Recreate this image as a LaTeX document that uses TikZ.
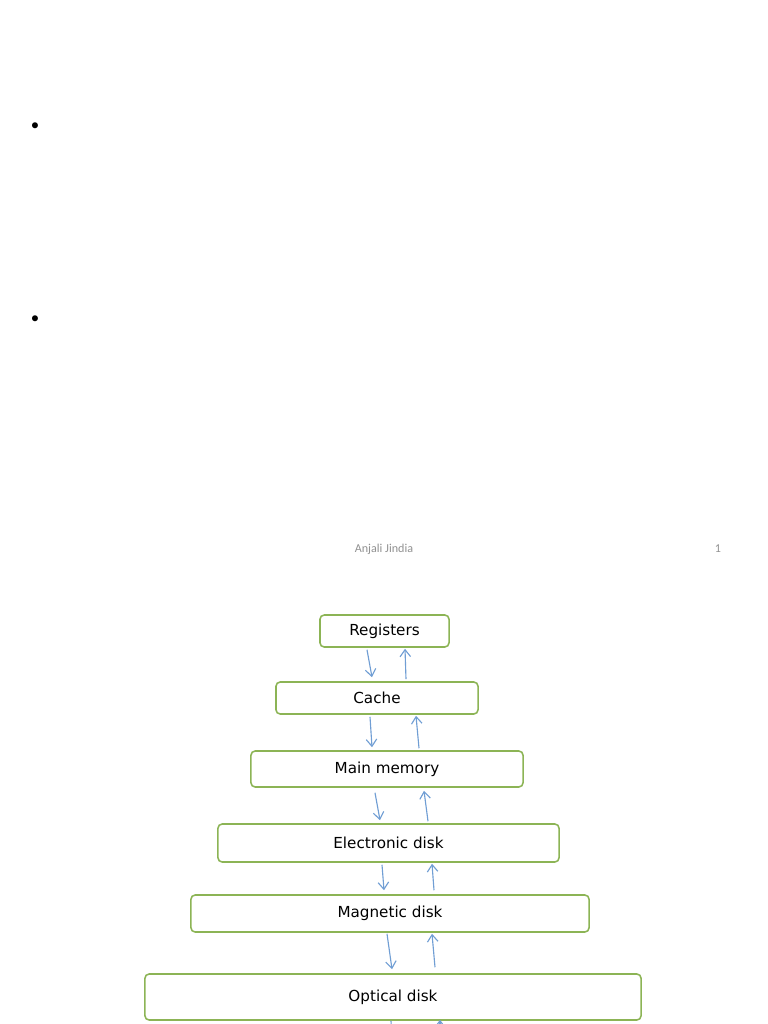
\documentclass[tikz,border=0pt]{standalone}
\usepackage{fontspec}
\setmainfont{Carlito}
\newfontfamily\boxfont{DejaVu Sans}
\usepackage{xcolor}
\usepackage{tikz}
\usetikzlibrary{arrows.meta, positioning, calc}

\definecolor{boxgreen}{RGB}{140,180,85}
\definecolor{arrowblue}{RGB}{112,158,212}
\definecolor{footgray}{RGB}{145,145,145}

\begin{document}
\begin{tikzpicture}[
    x=0.025cm, y=-0.025cm,
    level/.style={rectangle, draw=boxgreen, line width=1.1pt, rounded corners=3pt, fill=white, inner sep=0pt, font=\boxfont\fontsize{10.8}{12}\selectfont},
    flow/.style={-{Straight Barb[length=5pt, width=7.5pt]}, draw=arrowblue, line width=0.8pt},
    footer/.style={font=\fontsize{8.6}{10}\selectfont, text=footgray, inner sep=0pt},
    bullet/.style={font=\fontsize{12}{12}\selectfont, inner sep=0pt}
]
\clip (0,0) rectangle (768,1024);
\fill[white] (0,0) rectangle (768,1024);

% Slide part
\node[bullet] (bulletone) at (35,127) {\textbullet};
\node[bullet] (bullettwo) at (35,320) {\textbullet};
\node[footer] (author) at (384,549) {Anjali Jindia};
\node[footer] (pagenum) at (718,549) {1};

% Storage hierarchy
\node[level, minimum width=3.225cm, minimum height=0.8cm] (registers) at (384.5,631) {Registers};
\node[level, minimum width=5.05cm, minimum height=0.8cm] (cache) at (377,698) {Cache};
\node[level, minimum width=6.8cm, minimum height=0.9cm] (mainmem) at (387,769) {Main memory};
\node[level, minimum width=8.525cm, minimum height=0.95cm] (electronic) at (388.5,843) {Electronic disk};
\node[level, minimum width=9.95cm, minimum height=0.925cm] (magnetic) at (390,913.5) {Magnetic disk};
\node[level, minimum width=12.4cm, minimum height=1.15cm] (optical) at (393,997) {Optical disk};
\coordinate (below) at (393,1060);

% Arrows between levels (down, then up)
\draw[flow] ($(registers.south)+(-17.5,2)$) -- ($(cache.north)+(-5,-4)$);
\draw[flow] ($(cache.north)+(29,-2)$) -- ($(registers.south)+(20.5,1)$);

\draw[flow] ($(cache.south)+(-7,2)$) -- ($(mainmem.north)+(-15,-3)$);
\draw[flow] ($(mainmem.north)+(32,-2)$) -- ($(cache.south)+(39,1)$);

\draw[flow] ($(mainmem.south)+(-12,5)$) -- ($(electronic.north)+(-8.5,-3)$);
\draw[flow] ($(electronic.north)+(39.5,-2)$) -- ($(mainmem.south)+(37,3)$);

\draw[flow] ($(electronic.south)+(-6.5,2)$) -- ($(magnetic.north)+(-6,-4)$);
\draw[flow] ($(magnetic.north)+(44,-4)$) -- ($(electronic.south)+(43.5,1)$);

\draw[flow] ($(magnetic.south)+(-3,1)$) -- ($(optical.north)+(-1,-4)$);
\draw[flow] ($(optical.north)+(42,-6)$) -- ($(magnetic.south)+(42,1)$);

% Arrows towards the next level (cut off)
\draw[flow] ($(optical.south)+(-2,0)$) -- (below);
\draw[flow] ($(below)+(47,0)$) -- ($(optical.south)+(47,-1)$);
\end{tikzpicture}
\end{document}
